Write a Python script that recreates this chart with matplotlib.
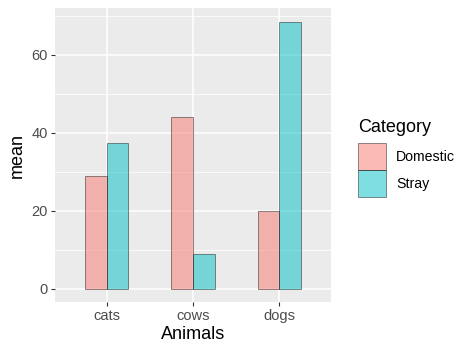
import matplotlib
matplotlib.use("Agg")
import matplotlib.pyplot as plt
import numpy as np
from matplotlib.patches import Patch

plt.rcParams['font.family'] = ['Liberation Sans', 'DejaVu Sans']

animals = ["cats", "cows", "dogs"]
domestic = [29, 44, 20]
stray = [37.4, 9, 68.4]
categories = ["Domestic", "Stray"]
colors = ["#F8766D", "#00BFC4"]

fig = plt.figure(figsize=(4.74, 3.55), dpi=100)
ax = fig.add_axes([55 / 474, 1 - 302 / 355, 276 / 474, 294 / 355])
ax.set_facecolor("#EBEBEB")

x = np.arange(len(animals))
w = 0.25
for vals, col, off in [(domestic, colors[0], -w / 2), (stray, colors[1], w / 2)]:
    ax.bar(x + off, vals, width=w, color=col, alpha=0.5, edgecolor=(0, 0, 0, 0.45),
           linewidth=0.6, zorder=3)

ax.set_xlim(-0.6, 2.6)
ax.set_ylim(-3.4, 72)
ax.set_xticks(x)
ax.set_xticklabels(animals)
ax.set_yticks([0, 20, 40, 60])
ax.set_yticks([10, 30, 50, 70], minor=True)
ax.grid(True, which="major", color="white", linewidth=1.1, zorder=0)
ax.grid(True, which="minor", axis="y", color="white", linewidth=0.55, zorder=0)
ax.set_axisbelow(True)
for s in ax.spines.values():
    s.set_visible(False)
ax.tick_params(which="major", length=3, width=0.8, color="#333333",
               labelsize=10.5, labelcolor="#4D4D4D", pad=2)
ax.tick_params(which="minor", length=0)
ax.set_xlabel("Animals", fontsize=13, labelpad=2)
ax.set_ylabel("mean", fontsize=13, labelpad=4)

handles = [Patch(facecolor=c, alpha=0.5, edgecolor=(0, 0, 0, 0.45), linewidth=0.6)
           for c in colors]
leg = fig.legend(handles, categories, title="Category", loc="upper left",
                 bbox_to_anchor=(358 / 474, 1 - 119 / 355), frameon=False,
                 fontsize=10.2, title_fontsize=13, handlelength=2.0, handleheight=2.55,
                 handletextpad=0.7, labelspacing=0.0, borderaxespad=0, borderpad=0)
leg._legend_box.align = "left"
leg._legend_box.sep = 5

fig.savefig("out.png", dpi=100)
